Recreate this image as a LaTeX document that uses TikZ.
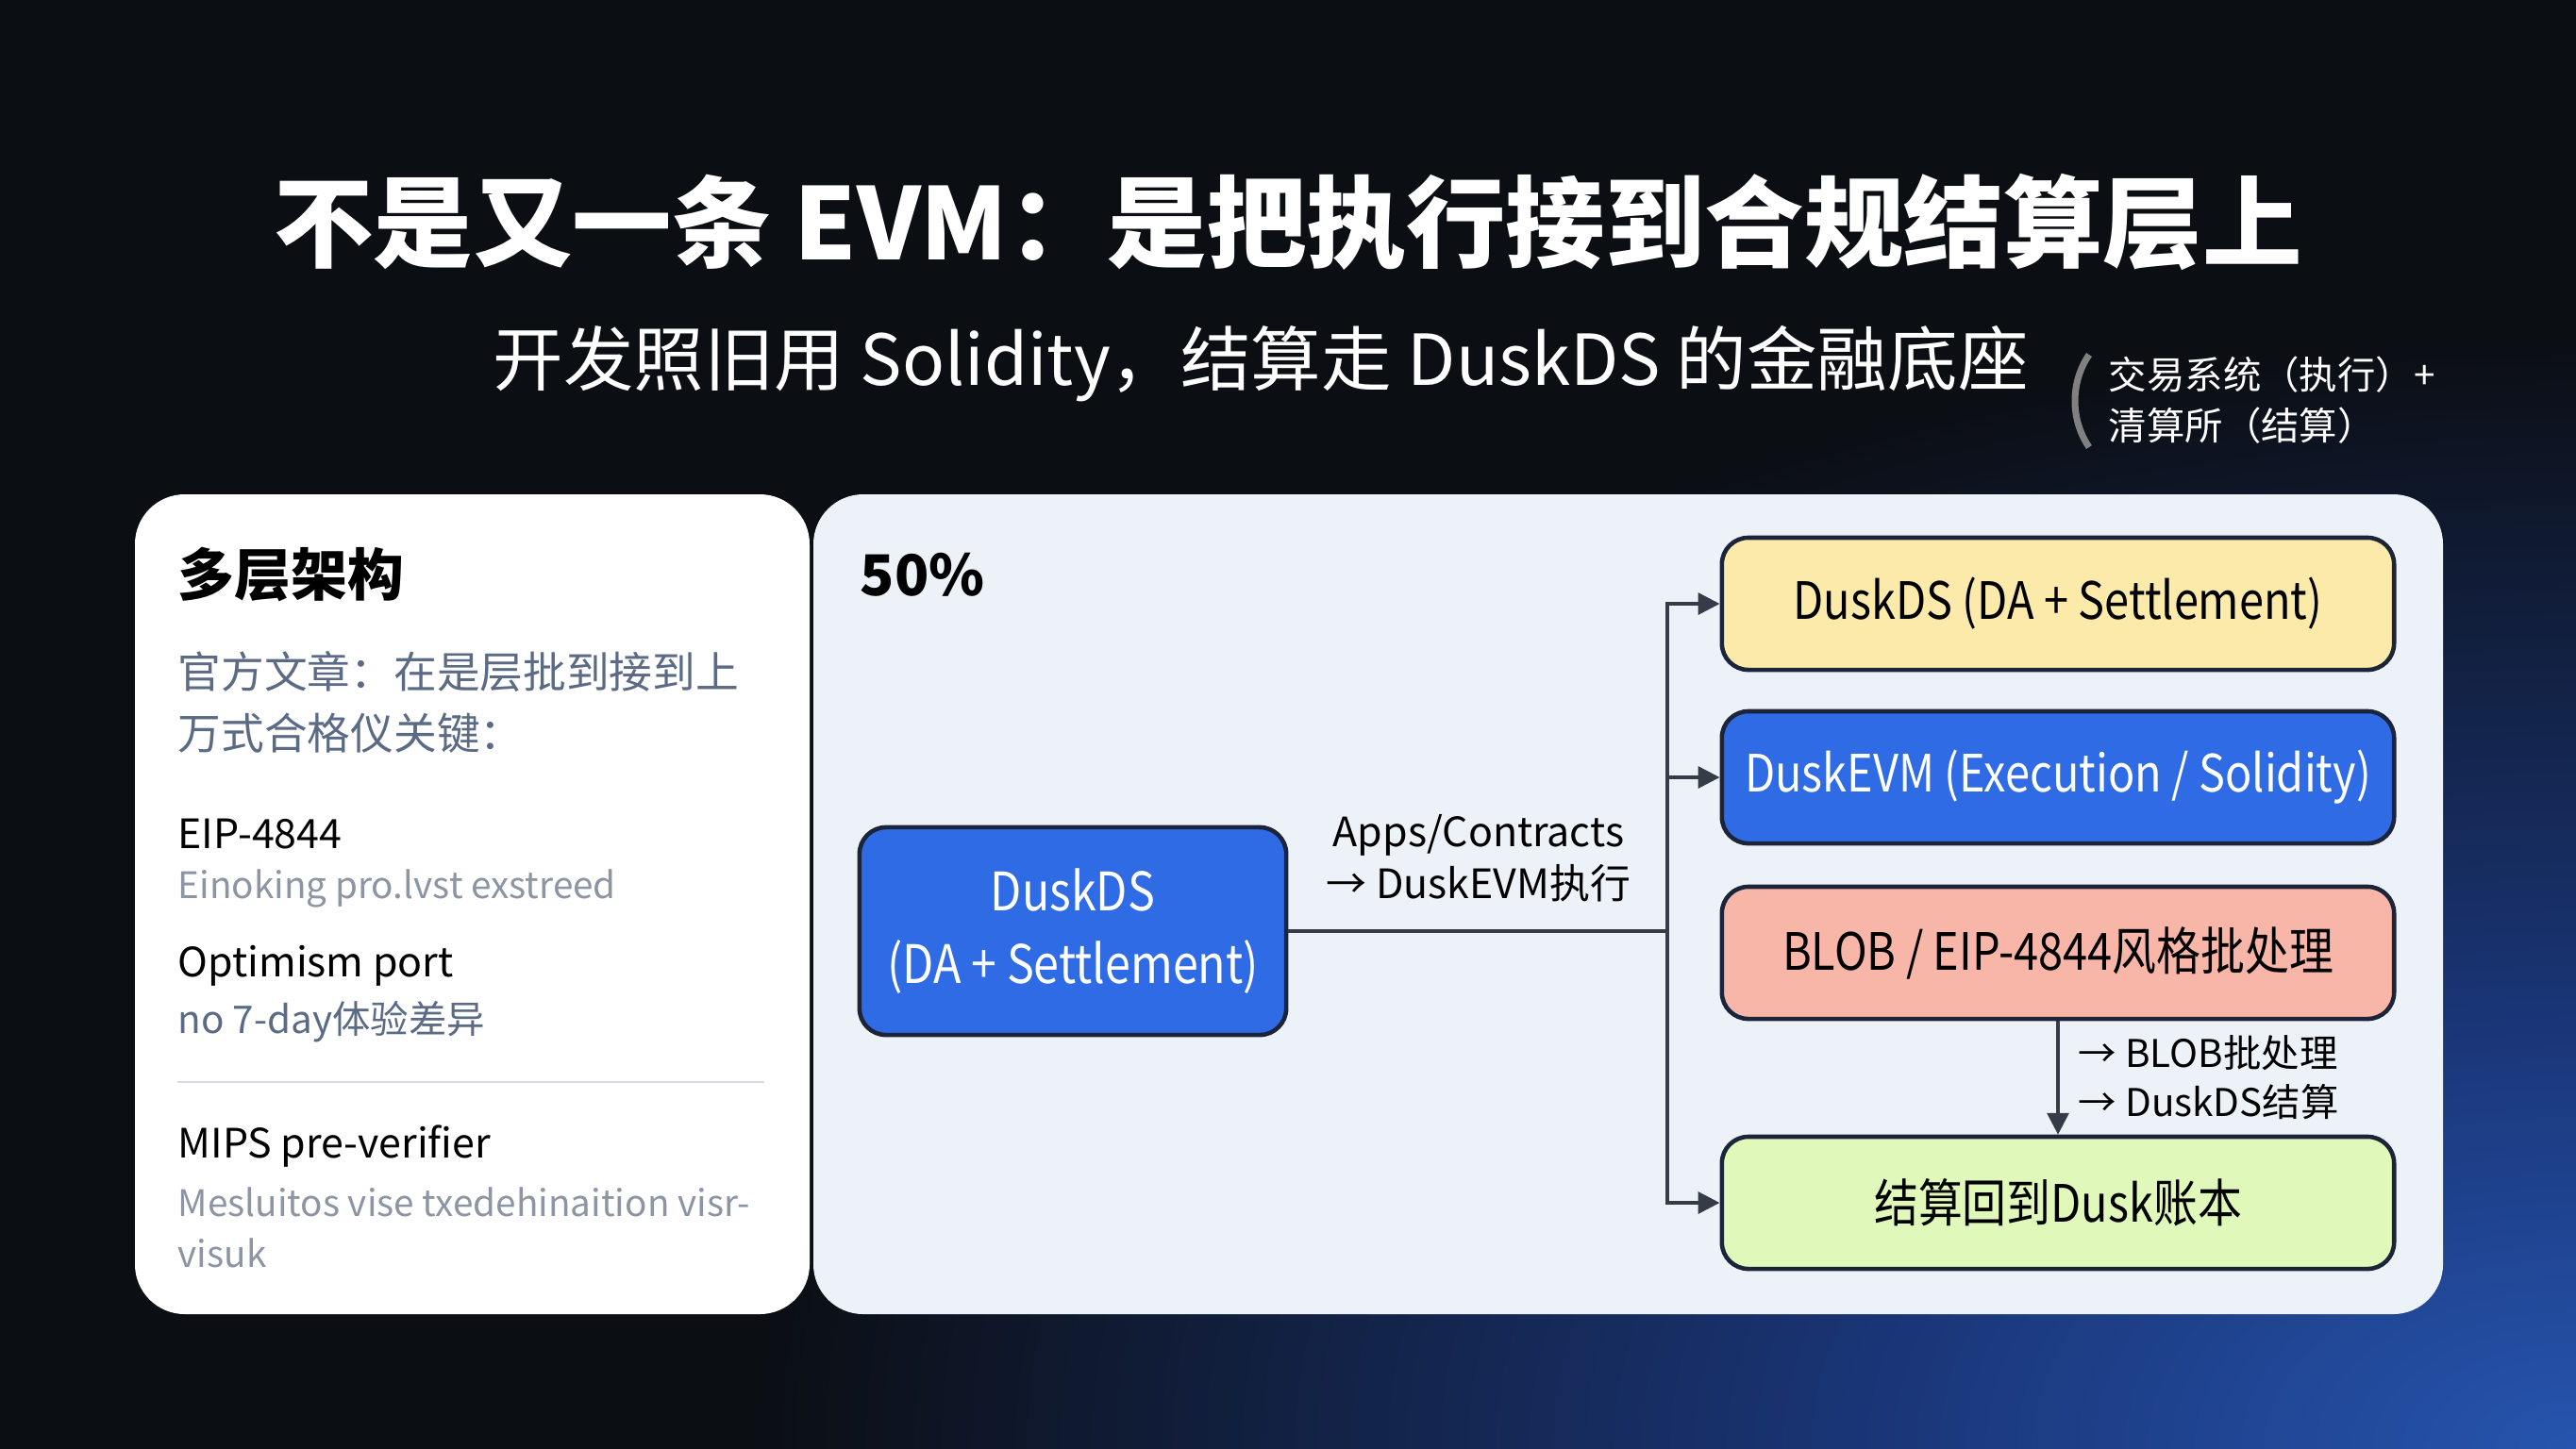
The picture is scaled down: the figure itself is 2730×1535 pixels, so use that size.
\documentclass[tikz,border=0pt]{standalone}
\usepackage{fontspec}
\setmainfont{Noto Sans CJK SC}
\newfontfamily\narrowfont[FakeStretch=0.86]{Noto Sans CJK SC}
\usetikzlibrary{arrows.meta}
\definecolor{bgdark}{HTML}{0B0E13}
\definecolor{glowblue}{HTML}{2654AE}
\definecolor{glowmid}{HTML}{1A3678}
\definecolor{panelbg}{HTML}{EDF1F8}
\definecolor{boxline}{HTML}{1B2438}
\definecolor{linkgray}{HTML}{353C48}
\definecolor{dsblue}{HTML}{2E6BE4}
\definecolor{dsyellow}{HTML}{FBEAAA}
\definecolor{blobred}{HTML}{F8B6A8}
\definecolor{ledgergreen}{HTML}{E0F8B9}
\definecolor{leadgray}{HTML}{5B6B86}
\definecolor{notegray}{HTML}{8C95A3}
\definecolor{sepgray}{HTML}{D6DBE3}
\pgfdeclareradialshading{cornerglow}{\pgfpointorigin}{color(0bp)=(glowblue); color(8bp)=(glowmid); color(21bp)=(bgdark); color(50bp)=(bgdark)}

\begin{document}
\begin{tikzpicture}[x=0.01cm,y=-0.01cm,
  layer/.style={draw=boxline,line width=1.3pt,rounded corners=8pt,minimum width=7.12cm,minimum height=1.40cm,inner sep=0pt,font=\narrowfont\fontsize{15.5}{20}\selectfont},
  link/.style={draw=linkgray,line width=1pt,-{Triangle[length=6.5pt,width=6.5pt]}},
  itemhead/.style={anchor=west,inner sep=0pt,text=black,font=\fontsize{12.2}{15}\selectfont},
  itemnote/.style={anchor=west,inner sep=0pt,text=notegray,font=\fontsize{11}{14}\selectfont},
  flowlabel/.style={inner sep=0pt,text=black,font=\fontsize{12.2}{15.6}\selectfont}]
\useasboundingbox (0,0) rectangle (2730,1535);
\fill[bgdark] (-10,-10) rectangle (2740,1545);
\begin{scope}
  \clip (-10,-10) rectangle (2740,1545);
  \shade[shading=cornerglow] (2730,1535) ellipse (2300 and 1400);
\end{scope}

\node[text=white,font=\fontsize{30}{36}\selectfont\bfseries] (title) at (1365,235) {不是又一条 EVM：是把执行接到合规结算层上};
\node[text=white,font=\fontsize{21.2}{26}\selectfont] (subtitle) at (1336,386) {开发照旧用 Solidity，结算走 DuskDS 的金融底座};
\draw[gray,line width=2pt] (2214,376) .. controls (2194,405) and (2194,445) .. (2214,474);
\node[anchor=west,inner sep=0pt,text=white,align=left,font=\fontsize{11.5}{15.4}\selectfont] (aside) at (2234,424) {交易系统（执行）+\\清算所（结算）};

\fill[white,rounded corners=15pt] (143,524) rectangle (858,1393);
\fill[panelbg,rounded corners=15pt] (862,524) rectangle (2589,1393);

\node[anchor=west,inner sep=0pt,font=\fontsize{17}{20}\selectfont\bfseries] (cardtitle) at (188,609) {多层架构};
\node[anchor=west,inner sep=0pt,text=leadgray,font=\fontsize{13}{16}\selectfont] (lead1) at (188,712) {官方文章：在是层批到接到上};
\node[anchor=west,inner sep=0pt,text=leadgray,font=\fontsize{13}{16}\selectfont] (lead2) at (188,777) {万式合格仪关键：};
\node[itemhead] (eip) at (188,884) {EIP-4844};
\node[itemnote] (eipnote) at (188,942) {Einoking pro.lvst exstreed};
\node[itemhead] (op) at (188,1024) {Optimism port};
\node[itemnote,text=leadgray,font=\fontsize{11.5}{14}\selectfont] (opnote) at (188,1083) {no 7-day体验差异};
\draw[sepgray,line width=0.8pt] (188,1147) -- (810,1147);
\node[itemhead] (mips) at (188,1215) {MIPS pre-verifier};
\node[itemnote] (mipsnote1) at (188,1274) {Mesluitos vise txedehinaition visr-};
\node[itemnote] (mipsnote2) at (188,1328) {visuk};

\node[anchor=west,inner sep=0pt,font=\fontsize{17}{20}\selectfont\bfseries] (share) at (911,609) {50\%};
\node[layer,fill=dsblue,text=white,minimum width=4.52cm,minimum height=2.2cm,align=center,font=\narrowfont\fontsize{16}{22}\selectfont] (ds) at (1137,987) {DuskDS\\(DA + Settlement)};
\node[layer,fill=dsyellow] (settle) at (2181,640) {DuskDS (DA + Settlement)};
\node[layer,fill=dsblue,text=white] (evm) at (2181,824) {DuskEVM (Execution / Solidity)};
\node[layer,fill=blobred] (blob) at (2181,1010) {BLOB / EIP-4844风格批处理};
\node[layer,fill=ledgergreen] (ledger) at (2181,1275) {结算回到Dusk账本};

\coordinate (fork) at (1767,987);
\draw[draw=linkgray,line width=1pt] (ds.east) -- (fork);
\draw[link] (fork) |- (settle.west);
\draw[link] (fork) |- (evm.west);
\draw[link] (fork) |- (ledger.west);
\draw[link] (blob.south) -- (ledger.north);
\node[flowlabel,align=center] (appslbl) at (1567,910) {Apps/Contracts\\→ DuskEVM执行};
\node[flowlabel,anchor=west,align=left,font=\fontsize{11.5}{14.8}\selectfont] (bloblbl) at (2202,1142) {→ BLOB批处理\\→ DuskDS结算};
\end{tikzpicture}
\end{document}
